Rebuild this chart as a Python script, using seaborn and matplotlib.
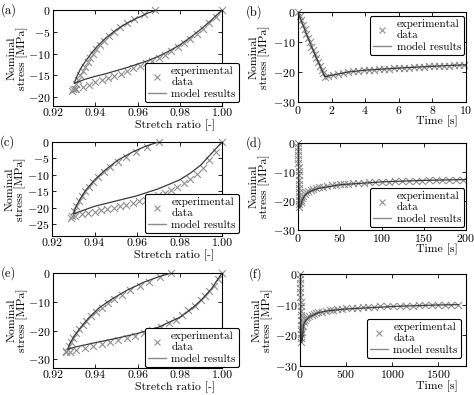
import matplotlib
matplotlib.use("Agg")
import matplotlib.pyplot as plt
import seaborn as sns
import pandas as pd
from matplotlib.lines import Line2D

# ---------------- panel (a): hysteresis loop ----------------
a_exp_load_x = [1.000, 0.997, 0.994, 0.991, 0.988, 0.985, 0.982, 0.979, 0.976, 0.973, 0.970, 0.967, 0.964,
                0.961, 0.958, 0.955, 0.952, 0.949, 0.946, 0.943, 0.940, 0.937, 0.934, 0.931, 0.929]
a_exp_load_y = [0, -1.6, -3.0, -4.3, -5.5, -6.6, -7.6, -8.5, -9.4, -10.2, -10.9, -11.6, -12.2,
                -12.8, -13.4, -14.0, -14.6, -15.1, -15.6, -16.1, -16.6, -17.1, -17.6, -18.1, -18.5]
a_exp_unl_x = [0.9295, 0.9302, 0.9310, 0.9318, 0.9328, 0.9340, 0.9352, 0.9364, 0.9376, 0.9388, 0.9405,
               0.9423, 0.9442, 0.9465, 0.9490, 0.9518, 0.9548, 0.9585, 0.9630, 0.9685]
a_exp_unl_y = [-18.2, -18.0, -17.0, -16.0, -15.0, -14.0, -13.0, -12.0, -11.0, -10.0, -9.0,
               -8.0, -7.0, -6.0, -5.0, -4.0, -3.0, -2.0, -1.0, 0.0]
a_mod_x = [1.0, 0.995, 0.99, 0.985, 0.98, 0.975, 0.97, 0.965, 0.96, 0.955, 0.95, 0.945, 0.94, 0.935, 0.93,
           0.9315, 0.933, 0.935, 0.938, 0.941, 0.945, 0.950, 0.955, 0.960, 0.965, 0.969]
a_mod_y = [0, -2.3, -4.4, -6.3, -8.0, -9.4, -10.6, -11.6, -12.4, -13.2, -13.9, -14.6, -15.2, -15.9, -16.8,
           -15.0, -13.5, -12.0, -10.0, -8.3, -6.4, -4.5, -3.0, -1.8, -0.7, 0.0]

# ---------------- panel (c): hysteresis loop ----------------
c_exp_load_x = [1.000, 0.997, 0.994, 0.991, 0.988, 0.985, 0.982, 0.979, 0.976, 0.973, 0.970, 0.967, 0.964,
                0.961, 0.958, 0.955, 0.952, 0.949, 0.946, 0.943, 0.940, 0.937, 0.934, 0.931, 0.929]
c_exp_load_y = [0, -3.0, -5.6, -7.8, -9.6, -11.1, -12.4, -13.5, -14.5, -15.4, -16.2, -16.9, -17.5,
                -18.0, -18.5, -19.0, -19.5, -19.9, -20.3, -20.7, -21.1, -21.5, -21.9, -22.4, -23.0]
c_exp_unl_x = [0.9292, 0.9302, 0.9315, 0.9328, 0.9342, 0.9357, 0.9375, 0.9395, 0.9418, 0.9445, 0.9475,
               0.9510, 0.9550, 0.9595, 0.9645, 0.9705]
c_exp_unl_y = [-22.5, -21.0, -19.5, -18.0, -16.5, -15.0, -13.5, -12.0, -10.5, -9.0, -7.5,
               -6.0, -4.5, -3.0, -1.5, 0.0]
c_mod_x = [1.0, 0.995, 0.99, 0.985, 0.98, 0.97, 0.96, 0.95, 0.94, 0.93,
           0.931, 0.9335, 0.936, 0.940, 0.945, 0.951, 0.958, 0.964, 0.970]
c_mod_y = [0, -3.5, -7.0, -9.5, -11.5, -14.2, -16.3, -17.9, -19.5, -21.8,
           -20.0, -17.0, -14.5, -11.5, -8.5, -5.5, -3.0, -1.3, 0.0]

# ---------------- panel (e): hysteresis loop ----------------
e_exp_load_x = [1.000, 0.998, 0.996, 0.994, 0.992, 0.990, 0.987, 0.984, 0.981, 0.978, 0.975, 0.971, 0.967,
                0.963, 0.959, 0.955, 0.951, 0.947, 0.943, 0.939, 0.935, 0.931, 0.928, 0.926]
e_exp_load_y = [0, -2.2, -4.4, -6.3, -7.9, -9.3, -11.3, -13.0, -14.6, -16.2, -17.4, -18.8, -19.9,
                -20.9, -21.8, -22.6, -23.3, -24.0, -24.7, -25.4, -26.1, -26.8, -27.3, -27.6]
e_exp_unl_x = [0.9262, 0.9274, 0.9285, 0.9297, 0.9310, 0.9324, 0.9340, 0.9358, 0.9380, 0.9404, 0.9430,
               0.9458, 0.9490, 0.9525, 0.9565, 0.9610, 0.9655, 0.9705, 0.9760]
e_exp_unl_y = [-27.0, -25.5, -24.0, -22.5, -21.0, -19.5, -18.0, -16.5, -15.0, -13.5, -12.0,
               -10.5, -9.0, -7.5, -6.0, -4.5, -3.0, -1.5, 0.0]
e_mod_x = [1.0, 0.995, 0.99, 0.985, 0.98, 0.97, 0.96, 0.95, 0.94, 0.93, 0.927,
           0.928, 0.930, 0.933, 0.937, 0.942, 0.948, 0.955, 0.963, 0.970, 0.976]
e_mod_y = [0, -5.5, -9.5, -12.8, -15.4, -18.8, -21.0, -22.7, -24.2, -25.8, -26.5,
           -24.5, -22.0, -19.0, -15.5, -12.0, -9.0, -6.0, -3.2, -1.3, 0.0]

# ---------------- panel (b): relaxation, 0-10 s ----------------
b_exp_t = [0, 0.1, 0.2, 0.3, 0.4, 0.5, 0.6, 0.7, 0.8, 0.9, 1.0, 1.1, 1.2, 1.3, 1.4, 1.5, 1.6,
           1.8, 2.1, 2.4, 2.7, 3.0, 3.3, 3.6, 3.9, 4.2, 4.5, 4.8, 5.1, 5.4, 5.7, 6.0, 6.3, 6.6,
           6.9, 7.2, 7.5, 7.8, 8.1, 8.4, 8.7, 9.0, 9.3, 9.6, 9.9]
b_exp_s = [0, -1.3, -2.8, -4.3, -5.8, -7.3, -8.8, -10.1, -11.5, -12.8, -14.1, -15.4, -16.7, -18.0, -19.2,
           -20.4, -21.6, -21.3, -20.9, -20.6, -20.3, -20.0, -19.8, -19.6, -19.45, -19.3, -19.2, -19.1,
           -19.0, -18.9, -18.8, -18.7, -18.6, -18.5, -18.4, -18.3, -18.2, -18.1, -18.05, -18.0, -17.9,
           -17.85, -17.8, -17.7, -17.65]
b_mod_t = [0, 0.5, 1.0, 1.6, 2.0, 3.0, 4.0, 6.0, 8.0, 10.0]
b_mod_s = [0, -7.3, -14.1, -21.6, -21.1, -20.0, -19.4, -18.7, -18.1, -17.6]

# ---------------- panel (d): relaxation, 0-200 s ----------------
d_exp_t = [0, 0.1, 0.2, 0.3, 0.4, 0.5, 0.6, 0.7, 0.8, 0.9, 1.0, 1.1, 1.2, 1.3, 1.4, 1.5, 1.6,
           3, 4, 5, 6, 8, 10, 12, 15, 18, 21, 25, 30, 35, 40, 45, 50, 55, 60, 66, 72, 78, 85,
           92, 100, 108, 116, 124, 132, 140, 148, 156, 164, 172, 180, 188, 196]
d_exp_s = [0, -1.4, -2.8, -4.2, -5.6, -7.0, -8.4, -9.8, -11.2, -12.6, -14.0, -15.4, -16.8, -18.2, -19.6,
           -21.0, -22.2, -20.5, -19.5, -18.8, -18.3, -17.6, -17.0, -16.6, -16.1, -15.8, -15.5, -15.3,
           -15.0, -14.8, -14.6, -14.4, -14.25, -14.1, -14.0, -13.9, -13.8, -13.7, -13.6, -13.5, -13.4,
           -13.3, -13.2, -13.15, -13.1, -13.0, -12.95, -12.9, -12.85, -12.8, -12.75, -12.7, -12.65]
d_mod_t = [0, 1.6, 3, 5, 7, 10, 15, 25, 50, 100, 150, 200]
d_mod_s = [0, -22.3, -22.0, -19.8, -18.6, -17.6, -16.6, -15.6, -14.4, -13.4, -12.9, -12.6]

# ---------------- panel (f): relaxation, 0-1800 s ----------------
f_exp_t = [0, 1, 2, 3, 4, 5, 6, 7, 8, 9, 10, 11, 12, 13, 14, 15,
           20, 30, 40, 50, 65, 80, 100, 125, 150, 175, 200, 240, 280, 320, 360, 400, 450, 500,
           560, 620, 680, 740, 800, 870, 940, 1010, 1080, 1150, 1220, 1290, 1360, 1430, 1500,
           1570, 1640, 1710]
f_exp_s = [0, -1.5, -3.0, -4.5, -6.0, -7.5, -9.0, -10.5, -12.0, -13.5, -15.0, -16.5, -18.0, -19.5, -21.0,
           -22.2, -19.0, -16.8, -15.8, -15.0, -14.5, -14.1, -13.7, -13.3, -13.0, -12.75, -12.55, -12.25,
           -12.0, -11.8, -11.65, -11.5, -11.35, -11.2, -11.05, -10.95, -10.85, -10.75, -10.65, -10.55,
           -10.5, -10.45, -10.4, -10.35, -10.3, -10.25, -10.2, -10.15, -10.1, -10.05, -10.0, -9.95]
f_mod_t = [0, 15, 25, 40, 60, 100, 200, 300, 500, 1000, 1500, 1720]
f_mod_s = [0, -22.3, -21.5, -16.5, -15.2, -14.0, -12.6, -12.0, -11.4, -10.6, -10.1, -10.0]

legend_labels = ["experimental\ndata", "model results"]
xlabel_stretch = "Stretch ratio [-]"
xlabel_time = "Time [s]"
ylabel = "Nominal\nstress [MPa]"

# ---------------- styling ----------------
sns.set_theme(style="ticks")
plt.rcParams.update({
    "font.family": ["cmr10", "DejaVu Serif"],
    "mathtext.fontset": "cm",
    "axes.formatter.use_mathtext": True,
    "axes.unicode_minus": True,
    "xtick.direction": "in",
    "ytick.direction": "in",
    "xtick.top": True,
    "ytick.right": True,
    "xtick.major.size": 3,
    "ytick.major.size": 3,
    "xtick.major.width": 0.6,
    "ytick.major.width": 0.6,
    "xtick.major.pad": 1.5,
    "ytick.major.pad": 2.0,
    "axes.linewidth": 0.8,
    "axes.edgecolor": "black",
    "xtick.color": "black",
    "ytick.color": "black",
    "xtick.labelsize": 8.5,
    "ytick.labelsize": 8.5,
    "axes.labelsize": 8.5,
    "text.color": "black",
    "axes.labelcolor": "black",
})

MARK_C = "#8f8f8f"
LINE_C = "#3a3a3a"

fig = plt.figure(figsize=(4.74, 3.95), dpi=100)
W, H = 474.0, 395.0


def add_ax(left, top, right, bottom):
    return fig.add_axes([left / W, 1 - bottom / H, (right - left) / W, (bottom - top) / H])


def draw(ax, ex, ey, mx, my):
    df_e = pd.DataFrame({"x": ex, "y": ey})
    df_m = pd.DataFrame({"x": mx, "y": my})
    sns.scatterplot(data=df_e, x="x", y="y", ax=ax, marker="x", color=MARK_C, s=25,
                    linewidth=0.8, clip_on=False, zorder=2, legend=False)
    sns.lineplot(data=df_m, x="x", y="y", ax=ax, sort=False, estimator=None, color=LINE_C,
                 lw=0.9, zorder=3, legend=False)


def legend(ax, loc, anchor):
    handles = [Line2D([], [], marker="x", ls="none", color=MARK_C, markersize=4.5, mew=0.8),
               Line2D([], [], color="#8a8a8a", lw=1.0)]
    lg = ax.legend(handles, legend_labels, loc=loc, bbox_to_anchor=anchor, fontsize=8,
                   frameon=True, fancybox=True, framealpha=1, edgecolor="black",
                   handlelength=1.6, handletextpad=0.5, borderpad=0.3, labelspacing=0.15,
                   borderaxespad=0.0)
    lg.get_frame().set_linewidth(0.8)
    lg.set_zorder(5)


def labels(ax, xlabel, xcoord, ha, xlab_y, ylab_x):
    ax.set_xlabel(xlabel, ha=ha)
    ax.xaxis.set_label_coords(xcoord, xlab_y)
    ax.set_ylabel(ylabel, linespacing=1.0)
    ax.yaxis.set_label_coords(ylab_x, 0.5)


def loop_panel(ax, letter, ex, ey, mx, my, ylim, yticks, lg_anchor):
    draw(ax, ex, ey, mx, my)
    ax.set_xlim(0.92, 1.00)
    ax.set_ylim(*ylim)
    ax.set_xticks([0.92, 0.94, 0.96, 0.98, 1.00])
    ax.set_xticklabels(["0.92", "0.94", "0.96", "0.98", "1.00"])
    ax.set_yticks(yticks)
    labels(ax, xlabel_stretch, 0.72, "center", -0.145, -0.15)
    legend(ax, "lower right", lg_anchor)
    ax.text(-0.31, 1.0, letter, transform=ax.transAxes, fontsize=9, va="center", ha="left")


def time_panel(ax, letter, ex, ey, mx, my, xlim, xticks, lg_loc, lg_anchor):
    draw(ax, ex, ey, mx, my)
    ax.set_xlim(*xlim)
    ax.set_ylim(-30, 0)
    ax.set_xticks(xticks)
    ax.set_yticks([-30, -20, -10, 0])
    labels(ax, xlabel_time, 0.95, "right", -0.155, -0.165)
    legend(ax, lg_loc, lg_anchor)
    ax.text(-0.31, 1.0, letter, transform=ax.transAxes, fontsize=9, va="center", ha="left")


ax_a = add_ax(53, 10, 222, 106)
loop_panel(ax_a, "(a)", a_exp_load_x + a_exp_unl_x, a_exp_load_y + a_exp_unl_y, a_mod_x, a_mod_y,
           (-22, 0), [-20, -15, -10, -5, 0], (1.1, 0.04))

ax_b = add_ax(298, 12, 466, 102)
time_panel(ax_b, "(b)", b_exp_t, b_exp_s, b_mod_t, b_mod_s, (0, 10), [0, 2, 4, 6, 8, 10],
           "upper right", (0.99, 0.955))

ax_c = add_ax(52, 142, 222, 236)
loop_panel(ax_c, "(c)", c_exp_load_x + c_exp_unl_x, c_exp_load_y + c_exp_unl_y, c_mod_x, c_mod_y,
           (-28.5, 0), [-25, -20, -15, -10, -5, 0], (1.1, 0.03))

ax_d = add_ax(298, 143, 466, 230)
time_panel(ax_d, "(d)", d_exp_t, d_exp_s, d_mod_t, d_mod_s, (0, 200), [0, 50, 100, 150, 200],
           "lower right", (0.99, 0.035))

ax_e = add_ax(53, 273, 222, 368)
loop_panel(ax_e, "(e)", e_exp_load_x + e_exp_unl_x, e_exp_load_y + e_exp_unl_y, e_mod_x, e_mod_y,
           (-33, 0), [-30, -20, -10, 0], (1.1, 0.01))

ax_f = add_ax(300, 274, 466, 366)
time_panel(ax_f, "(f)", f_exp_t, f_exp_s, f_mod_t, f_mod_s, (0, 1800), [0, 500, 1000, 1500],
           "lower right", (0.97, 0.087))

fig.savefig("out.png", dpi=100)
